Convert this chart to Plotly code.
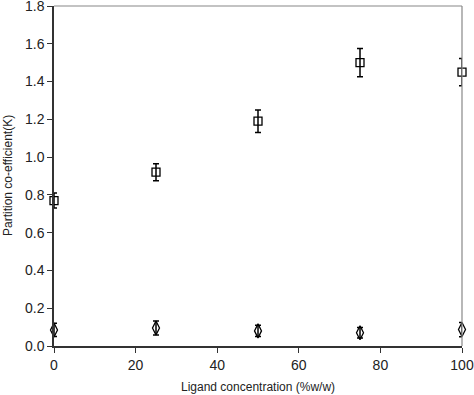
import plotly.graph_objects as go

ligand = [0, 25, 50, 75, 100]
k_square = [0.77, 0.92, 1.19, 1.50, 1.45]
err_square = [0.04, 0.045, 0.06, 0.075, 0.072]
k_diamond = [0.085, 0.095, 0.08, 0.07, 0.087]
err_diamond = [0.035, 0.037, 0.03, 0.028, 0.038]

fig = go.Figure()
for y, e, sym, sz in [(k_square, err_square, "square-open", 8),
                      (k_diamond, err_diamond, "diamond-tall-open", 10)]:
    fig.add_trace(go.Scatter(
        x=ligand, y=y, mode="markers",
        marker=dict(symbol=sym, size=sz, color="black", line=dict(width=1.3, color="black")),
        error_y=dict(type="data", array=e, visible=True, color="black", thickness=1.5, width=3),
        cliponaxis=False, showlegend=False))

font = "Liberation Sans, Arial, sans-serif"
fig.update_layout(
    width=474, height=395,
    margin=dict(l=54, r=12, t=6, b=49),
    plot_bgcolor="white", paper_bgcolor="white",
    font=dict(family=font, color="#222"),
    xaxis=dict(range=[0, 100], tickvals=[0, 20, 40, 60, 80, 100], showgrid=False, zeroline=False,
               showline=True, linecolor="#333", linewidth=1.5, ticks="outside", ticklen=5,
               tickcolor="#333", tickfont=dict(size=14), automargin=False,
               ticklabeloverflow="allow"),
    yaxis=dict(range=[0, 1.8], dtick=0.2, tickformat=".1f", showgrid=False, zeroline=False,
               showline=True, linecolor="#333", linewidth=1.5, ticks="outside", ticklen=5,
               tickcolor="#333", tickfont=dict(size=14), automargin=False,
               ticklabeloverflow="allow"),
    shapes=[
        dict(type="line", xref="paper", yref="paper", x0=0, x1=1, y0=1, y1=1, line=dict(color="#888", width=1.2)),
        dict(type="line", xref="paper", yref="paper", x0=1, x1=1, y0=0, y1=1, line=dict(color="#888", width=1.2)),
    ],
    annotations=[
        dict(text="Ligand concentration (%w/w)", xref="paper", yref="paper", x=0.5, y=-0.093,
             xanchor="center", yanchor="top", showarrow=False, font=dict(size=12)),
        dict(text="Partition co-efficient(K)", xref="paper", yref="paper", x=0, y=0.5,
             xanchor="center", yanchor="middle", xshift=-46, textangle=-90, showarrow=False,
             font=dict(size=12)),
    ],
)
fig.write_html("out.html", config={"displayModeBar": False},
               post_script="document.body.style.margin='0';")
